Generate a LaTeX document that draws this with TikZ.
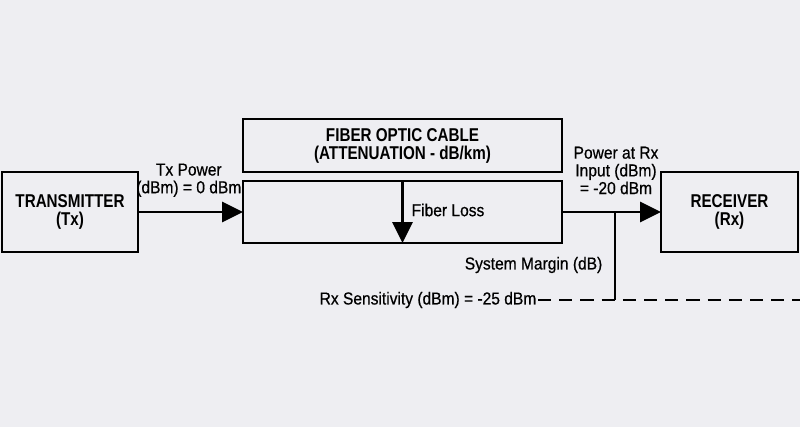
\documentclass[tikz,border=0pt]{standalone}
\usepackage{fontspec}
\setmainfont{Liberation Sans}[FakeStretch=0.9, FakeBold=0.6]
\newfontfamily\blockfont{Liberation Sans}[FakeStretch=0.82]
\usetikzlibrary{arrows.meta,positioning,calc}

\definecolor{bggray}{RGB}{238,238,242}

\begin{document}
\begin{tikzpicture}[
  font=\fontsize{12.3}{12.6}\selectfont,
  blockbox/.style={draw, line width=1.8pt, inner sep=0pt, outer sep=0pt, align=center, font=\fontsize{13.2}{12.8}\blockfont\bfseries},
  sigline/.style={line width=1.8pt, -{Triangle[length=0.52cm,width=0.5cm]}},
  plainlabel/.style={inner sep=1pt, align=center}
]
\fill[bggray] (0,0) rectangle (20,10.675);
\useasboundingbox (0,0) rectangle (20,10.675);

% blocks
\node[blockbox, minimum width=3.4cm, minimum height=2cm] (tx) at (1.75,5.375) {TRANSMITTER\\(Tx)};
\node[blockbox, minimum width=7.975cm, minimum height=1.325cm] (cable) at (10.0625,7.0375) {FIBER OPTIC CABLE\\(ATTENUATION - dB/km)};
\node[blockbox, minimum width=7.975cm, minimum height=1.55cm] (fiber) at (10.0625,5.375) {};
\node[blockbox, minimum width=3.425cm, minimum height=2cm] (rx) at (18.2375,5.375) {RECEIVER\\(Rx)};

% signal path
\draw[sigline] (tx) -- (fiber);
\draw[sigline] (fiber) -- (rx);
\draw[sigline] (fiber.north) -- (fiber.south);

% labels
\node[plainlabel] (txpower) at (4.72,6.17) {Tx Power\\(dBm) = 0 dBm};
\node[plainlabel] (rxpower) at (15.4,6.4125) {Power at Rx\\Input (dBm)\\= -20 dBm};
\node[plainlabel, anchor=west] (loss) at (10.25,5.425) {Fiber Loss};
\node[plainlabel, anchor=east] (margin) at (15.1,4.05) {System Margin (dB)};
\node[plainlabel, anchor=east] (sens) at (13.45,3.175) {Rx Sensitivity (dBm) = -25 dBm};

% margin
\coordinate (tap) at (15.375,5.375);
\coordinate (senspt) at (15.375,3.175);
\coordinate (dashend) at (20,3.175);
\draw[line width=1.8pt] (tap) -- (senspt);
\draw[line width=1.6pt, dash pattern=on 0.33cm off 0.2cm] (sens.east) -- (dashend);
\end{tikzpicture}
\end{document}
